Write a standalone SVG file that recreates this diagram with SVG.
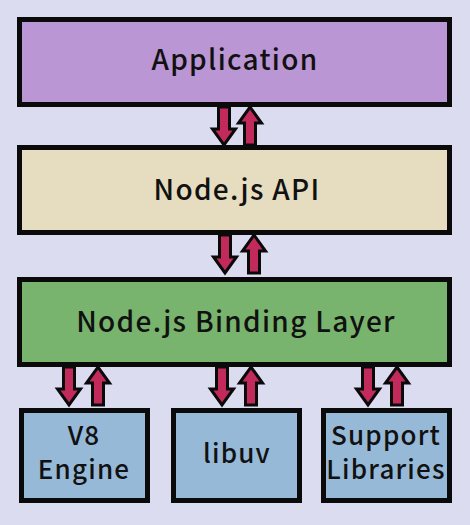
<svg xmlns="http://www.w3.org/2000/svg" width="470" height="525" viewBox="0 0 470 525">
<style>
.box{stroke:#0a0a0a;stroke-width:5}
.lbl{font-family:"Noto Sans CJK JP","Noto Sans",sans-serif;font-weight:500;font-size:28px;letter-spacing:1.3px;fill:#111;text-anchor:middle}
.sm{font-size:26px;letter-spacing:1.2px}
.arr{fill:#c22a5c;stroke:#0a0a0a;stroke-width:3;stroke-linejoin:miter}
</style>
<defs>
<polygon id="dn" points="-5.5,0 5.5,0 5.5,22 11.5,22 0,38 -11.5,22 -5.5,22"/>
<polygon id="up" points="-5.5,38 5.5,38 5.5,16 11.5,16 0,0 -11.5,16 -5.5,16"/>
</defs>
<rect width="470" height="525" fill="#dcdcf1"/>
<g id="connectors">
<use href="#dn" class="arr" x="224" y="107"/>
<use href="#up" class="arr" x="250" y="107"/>
<use href="#dn" class="arr" x="225" y="235"/>
<use href="#up" class="arr" x="254" y="235"/>
<use href="#dn" class="arr" x="69" y="367"/>
<use href="#up" class="arr" x="98" y="367"/>
<use href="#dn" class="arr" x="222" y="367"/>
<use href="#up" class="arr" x="251" y="367"/>
<use href="#dn" class="arr" x="368" y="367"/>
<use href="#up" class="arr" x="397" y="367"/>
</g>
<g id="application">
<rect class="box" x="19.5" y="19.5" width="430" height="85" fill="#bb96d5"/>
<text class="lbl" x="235" y="70">Application</text>
</g>
<g id="nodejs-api">
<rect class="box" x="19.5" y="147.5" width="430" height="85" fill="#e6dcbf"/>
<text class="lbl" x="237" y="200">Node.js API</text>
</g>
<g id="binding-layer">
<rect class="box" x="19.5" y="279.5" width="430" height="85" fill="#78b46e"/>
<text class="lbl" x="236" y="332">Node.js Binding Layer</text>
</g>
<g id="v8">
<rect class="box" x="21.5" y="410.5" width="126" height="90" fill="#97b9d8"/>
<text class="lbl sm" x="84" y="445">V8</text>
<text class="lbl sm" x="84" y="479">Engine</text>
</g>
<g id="libuv">
<rect class="box" x="173.5" y="410.5" width="126" height="90" fill="#97b9d8"/>
<text class="lbl sm" x="237" y="463">libuv</text>
</g>
<g id="support">
<rect class="box" x="323.5" y="410.5" width="126" height="90" fill="#97b9d8"/>
<text class="lbl sm" x="386" y="445">Support</text>
<text class="lbl sm" x="386" y="479">Libraries</text>
</g>
</svg>
